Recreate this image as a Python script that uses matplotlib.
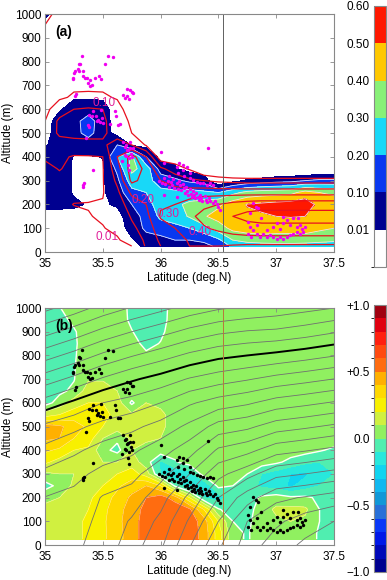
import numpy as np
import matplotlib
matplotlib.use("Agg")
import matplotlib.pyplot as plt
from matplotlib.colors import ListedColormap, BoundaryNorm
from matplotlib.cm import ScalarMappable

plt.rcParams['font.family'] = ['Liberation Sans', 'DejaVu Sans']

# grid for the gridded fields (rows = altitude from top to bottom)
lat = [35.0, 35.125, 35.25, 35.375, 35.5, 35.625, 35.75, 35.875, 36.0, 36.125, 36.25,
       36.375, 36.5, 36.625, 36.75, 36.875, 37.0, 37.125, 37.25, 37.375, 37.5]
alt = [1000, 950, 900, 850, 800, 750, 700, 650, 600, 550, 500, 450, 400, 350, 300,
       250, 200, 150, 100, 50, 25]

Z0 = [0] * 21

# (a) shaded field
conc_a = [
    [0.015] + [0] * 20,
    Z0, Z0, Z0, Z0, Z0, Z0, Z0,
    [-0.01, 0.0, 0.05, 0.06, 0.04, -0.03] + [0] * 15,
    [-0.03, 0.05, 0.07, 0.14, 0.05, -0.03] + [0] * 15,
    [-0.02, 0.05, 0.07, 0.13, 0.05, -0.02] + [0] * 15,
    [0, 0.05, 0.05, 0.05, 0.04, 0.1, 0.0, -0.02] + [0] * 13,
    [0.05, 0.05, 0.005, 0.005, 0.012, 0.2, 0.32, 0.1, -0.02] + [0] * 12,
    [0.05, 0.05, 0.0, -0.01, 0.0, 0.12, 0.33, 0.25, 0.06, 0.015, -0.02, -0.05, -0.1,
     -0.1, -0.1, -0.1, -0.1, -0.1, -0.1, -0.1, -0.1],
    [0.05, 0.05, 0.0, 0.0, 0.0, 0.08, 0.25, 0.24, 0.15, 0.12, 0.08, 0.06, -0.1, -0.02,
     0.02, 0.04, 0.06, 0.07, 0.1, 0.12, 0.12],
    [0.05, 0.05, 0.0, 0.0, 0.0, 0.05, 0.17, 0.2, 0.23, 0.22, 0.24, 0.22, 0.2, 0.27,
     0.33, 0.35, 0.36, 0.37, 0.44, 0.4, 0.38],
    [0.05, 0.05, 0.03, 0.0, 0.0, 0.02, 0.1, 0.15, 0.26, 0.28, 0.32, 0.35, 0.38, 0.46,
     0.505, 0.52, 0.535, 0.545, 0.555, 0.47, 0.46],
    [-0.05, -0.05, -0.03, 0, 0, -0.02, 0.06, 0.13, 0.22, 0.25, 0.31, 0.39, 0.44, 0.47,
     0.48, 0.49, 0.5, 0.505, 0.5, 0.47, 0.45],
    [0, 0, 0, 0, 0, -0.03, 0.04, 0.12, 0.15, 0.17, 0.2, 0.26, 0.35, 0.43, 0.45, 0.46,
     0.45, 0.45, 0.45, 0.42, 0.4],
    [0, 0, 0, 0, 0, 0, 0.0, 0.06, 0.07, 0.1, 0.1, 0.12, 0.18, 0.3, 0.33, 0.34, 0.34,
     0.34, 0.34, 0.33, 0.32],
    [0, 0, 0, 0, 0, 0, -0.02, 0.03, 0.04, 0.06, 0.07, 0.07, 0.12, 0.22, 0.25, 0.26,
     0.27, 0.27, 0.26, 0.25, 0.24],
]

# (a) red contour field
conc_red = [
    [0.02] + [0] * 20,
    [0.009] + [0] * 20,
    Z0, Z0, Z0, Z0, Z0,
    [0, 0, 0.018, 0.02, 0.018, 0.005] + [0] * 15,
    [-0.01, 0.05, 0.1, 0.11, 0.1, 0.03, -0.02] + [0] * 14,
    [0.01, 0.12, 0.14, 0.15, 0.12, 0.04, 0.0] + [0] * 14,
    [0.02, 0.12, 0.14, 0.14, 0.12, 0.05, 0.01] + [0] * 14,
    [0.02, 0.05, 0.05, 0.06, 0.08, 0.15, 0.1, 0.0] + [0] * 13,
    [0.015, 0.02, 0.005, 0.005, 0.01, 0.2, 0.34, 0.2, -0.05, -0.05, -0.1, -0.1, -0.1,
     -0.2, -0.2, -0.2, -0.2, -0.2, -0.2, -0.2, -0.2],
    [0.0, 0.012, 0.0, 0.0, 0.005, 0.16, 0.35, 0.28, 0.12, 0.05, 0.0, -0.1, -0.15,
     -0.2, -0.2, -0.2, -0.2, -0.2, -0.2, -0.2, -0.2],
    [0, 0, 0, 0, 0.005, 0.12, 0.32, 0.27, 0.2, 0.16, 0.12, 0.1, 0.08, 0.07, 0.06,
     0.06, 0.06, 0.06, 0.06, 0.06, 0.06],
    [0, 0, 0, 0, 0.005, 0.08, 0.22, 0.24, 0.26, 0.24, 0.25, 0.26, 0.26, 0.26, 0.26,
     0.26, 0.26, 0.26, 0.26, 0.26, 0.26],
    [0, 0, 0.011, 0.012, 0.015, 0.05, 0.15, 0.2, 0.29, 0.3, 0.34, 0.38, 0.4, 0.43,
     0.45, 0.46, 0.46, 0.46, 0.46, 0.46, 0.46],
    [0, 0, 0, 0.008, 0.015, 0.03, 0.11, 0.17, 0.31, 0.33, 0.38, 0.43, 0.46, 0.5, 0.53,
     0.54, 0.54, 0.54, 0.54, 0.54, 0.54],
    [0, 0, 0, 0, 0.008, 0.02, 0.08, 0.14, 0.26, 0.3, 0.36, 0.39, 0.42, 0.45, 0.46,
     0.47, 0.47, 0.47, 0.47, 0.47, 0.47],
    [0, 0, 0, 0, 0, 0.005, 0.03, 0.12, 0.22, 0.26, 0.31, 0.33, 0.34, 0.35, 0.36, 0.36,
     0.36, 0.36, 0.36, 0.36, 0.36],
    [0, 0, 0, 0, 0, 0, 0.01, 0.11, 0.2, 0.24, 0.3, 0.3, 0.3, 0.29, 0.28, 0.28, 0.28,
     0.28, 0.28, 0.28, 0.28],
]
red_labels = ['0.10', '0.01', '0.20', '0.30', '0.40']

# (b) shaded anomaly field
anom_b = [
    [-0.05, -0.005, 0.05, 0.05, 0.05, 0.05, -0.025, -0.06, -0.046] + [0.05] * 12,
    [-0.06, -0.03, 0.02, 0.05, 0.05, 0.05, -0.02, -0.06, -0.04] + [0.05] * 12,
    [-0.07, -0.05, -0.01, 0.05, 0.05, 0.05, 0.005, -0.05, -0.02] + [0.05] * 12,
    [-0.07, -0.05, -0.015, 0.05, 0.05, 0.05, 0.04, -0.03, 0.005] + [0.05] * 12,
    [-0.07, -0.05, -0.01, 0.05, 0.05, 0.05, 0.05, 0.02, 0.05] + [0.05] * 12,
    [-0.07, -0.05, -0.005, 0.05, 0.05, 0.05, 0.05, 0.05, 0.05] + [0.05] * 12,
    [-0.06, -0.04, -0.005, 0.09, 0.09, 0.07, 0.06, 0.06, 0.05] + [0.05] * 12,
    [-0.04, -0.02, 0.02, 0.15, 0.15, 0.1, 0.08, 0.08, 0.06] + [0.05] * 12,
    [-0.04, 0.04, 0.15, 0.2, 0.2, 0.15, -0.02, 0.1, 0.08] + [0.05] * 12,
    [0.15, 0.2, 0.25, 0.25, 0.22, 0.18, 0.12, 0.12, 0.12, 0.06] + [0.05] * 11,
    [0.45, 0.42, 0.35, 0.28, 0.2, 0.15, 0.14, 0.13, 0.12, 0.06] + [0.05] * 11,
    [0.42, 0.4, 0.3, 0.25, 0.1, 0.02, 0.12, 0.12, 0.1, 0.05] + [0.05] * 11,
    [0.32, 0.28, 0.2, 0.18, 0.03, -0.03, 0.1, 0.06, 0.06, 0.04, 0.04, 0.05, 0.05,
     0.05, 0.05, 0.05, 0.05, 0.05, 0.04, 0.01, -0.02],
    [0.22, 0.16, 0.14, 0.12, 0.1, 0.1, 0.15, 0.05, -0.12, -0.01, 0.05, 0.05, 0.05,
     0.05, 0.05, 0.05, 0.02, -0.03, -0.08, -0.1, -0.08],
    [0.08, 0.1, 0.1, 0.12, 0.15, 0.2, 0.25, 0.15, -0.1, -0.2, -0.15, 0.05, 0.05, 0.05,
     0.0, -0.1, -0.15, -0.2, -0.22, -0.15, -0.1],
    [-0.04, 0.03, 0.12, 0.15, 0.2, 0.28, 0.35, 0.4, 0.3, -0.02, -0.18, -0.2, 0.03,
     0.0, -0.06, -0.12, -0.15, -0.22, -0.15, -0.1, -0.08],
    [0.08, 0.1, 0.13, 0.18, 0.25, 0.33, 0.42, 0.5, 0.55, 0.45, 0.2, -0.1, -0.15,
     -0.05, -0.06, 0.02, 0.05, 0.02, 0.02, -0.02, -0.05],
    [0.12, 0.13, 0.15, 0.2, 0.27, 0.36, 0.45, 0.53, 0.58, 0.58, 0.52, 0.3, 0.01,
     -0.05, -0.04, 0.05, 0.12, 0.13, 0.12, 0.0, -0.04],
    [0.13, 0.14, 0.17, 0.22, 0.28, 0.37, 0.46, 0.54, 0.58, 0.59, 0.56, 0.45, 0.2,
     0.0, -0.02, 0.05, 0.08, 0.1, 0.08, 0.0, -0.03],
    [0.13, 0.14, 0.17, 0.22, 0.28, 0.36, 0.46, 0.54, 0.58, 0.59, 0.57, 0.46, 0.25,
     0.03, -0.01, 0.05, 0.05, 0.05, 0.04, -0.01, -0.03],
    [0.13, 0.14, 0.17, 0.22, 0.28, 0.36, 0.46, 0.54, 0.58, 0.59, 0.57, 0.46, 0.25,
     0.03, -0.01, 0.05, 0.05, 0.05, 0.04, -0.01, -0.03],
]

# (b) potential temperature (rows = altitude from 0 to 1000 m)
theta_lat = [35.0, 35.25, 35.5, 35.75, 36.0, 36.25, 36.5, 36.75, 37.0, 37.25, 37.5]
theta_alt = [0, 100, 200, 300, 400, 500, 600, 700, 800, 900, 1000]
theta = [
    [295.5, 295.2, 294.6, 293.5, 292.2, 290.1, 288.2, 286.5, 285.5, 284.8, 284.3],
    [295.6, 295.4, 294.75, 293.88, 292.73, 290.85, 289.0, 287.0, 286.2, 285.5, 285.0],
    [295.97, 295.7, 294.93, 294.54, 293.42, 291.73, 290.0, 288.46, 287.23, 286.92, 286.56],
    [296.77, 296.33, 295.67, 295.33, 294.33, 293.0, 291.29, 290.38, 289.31, 289.0, 288.65],
    [297.72, 297.2, 296.6, 296.2, 295.44, 294.43, 292.83, 292.31, 291.4, 291.08, 290.73],
    [298.78, 298.26, 297.67, 297.25, 296.63, 295.75, 294.6, 294.23, 293.48, 293.17, 292.81],
    [300.58, 299.8, 299.0, 298.57, 298.0, 297.14, 296.54, 296.15, 295.56, 295.25, 294.9],
    [302.5, 301.73, 300.87, 300.15, 299.58, 298.91, 298.45, 298.08, 297.65, 297.33, 296.98],
    [304.42, 303.65, 302.79, 302.08, 301.44, 300.77, 300.27, 300.0, 299.73, 299.42, 299.06],
    [306.35, 305.58, 304.71, 304.0, 303.37, 302.69, 302.19, 301.92, 301.8, 301.5, 301.1],
    [308.27, 307.5, 306.63, 305.92, 305.29, 304.62, 304.12, 303.85, 303.6, 303.3, 303.0],
]
theta_bold = 300

# observation points
dot_lat = [35.548, 35.585, 35.519, 35.317, 35.303, 35.283, 35.260, 35.246, 35.251, 35.298,
           35.332, 35.361, 35.389, 35.375, 35.404, 35.433, 35.470, 35.482, 35.389, 35.346,
           35.326, 35.291, 35.239, 35.260, 35.268,
           35.735, 35.750, 35.712, 35.692, 35.730, 35.706, 35.677, 35.758,
           35.418, 35.404, 35.441, 35.461, 35.490, 35.476, 35.447, 35.504, 35.562, 35.614,
           35.634, 35.383, 35.383, 35.606, 35.649, 35.482, 35.375,
           35.355, 35.418, 35.340, 35.326, 35.331,
           35.678, 35.735, 35.692, 35.721, 35.741, 35.701, 35.663, 35.721, 35.701, 35.713,
           35.736, 35.692, 35.750, 35.730, 35.764, 35.730,
           36.0, 36.41, 36.03, 36.162, 36.191, 36.226, 36.197, 36.254, 36.139, 36.283,
           36.312, 36.341, 36.370, 36.398, 36.427, 36.456,
           35.99, 36.01, 36.03, 36.04, 36.06, 36.07, 36.09, 36.10, 36.11, 36.12,
           36.14, 36.15, 36.16, 36.17, 36.18, 36.19, 36.20, 36.21, 36.22, 36.23,
           36.24, 36.25, 36.26, 36.27, 36.28, 36.29, 36.30, 36.31, 36.32, 36.33,
           36.34, 36.35, 36.36, 36.38, 36.39, 36.40, 36.42, 36.43, 36.45, 36.47,
           36.49, 36.50, 36.51, 36.03, 36.14, 36.07, 36.15, 36.20, 36.25,
           36.802, 36.825, 36.773, 36.843, 36.872, 36.757, 36.773, 36.802, 36.83, 36.859,
           36.757, 36.786, 36.888, 36.917, 36.945, 36.974, 37.003, 37.032, 37.061, 37.090,
           37.118, 37.147, 37.176, 37.205, 37.234, 36.974, 37.003, 37.032, 37.061, 37.090,
           37.118, 37.147, 37.176, 37.205, 37.220, 37.249, 37.19, 37.061, 36.83, 36.917]
dot_alt = [825, 818, 788, 823, 788, 767, 760, 731, 753, 760,
           760, 731, 724, 710, 703, 731, 741, 727, 699, 732,
           739, 792, 727, 654, 665,
           682, 671, 657, 647, 643, 687, 659, 670,
           591, 570, 570, 556, 563, 545, 549, 542, 539, 570,
           535, 575, 524, 592, 538, 596, 534,
           478, 345, 288, 274, 281,
           464, 464, 443, 429, 412, 403, 384, 366, 449, 428,
           435, 407, 400, 393, 435, 344,
           422, 439, 373, 373, 366, 359, 345, 331, 358, 302,
           295, 292, 288, 281, 288, 281,
           300, 290, 310, 285, 300, 275, 295, 280, 305, 270,
           290, 265, 300, 280, 260, 285, 270, 250, 275, 255,
           240, 265, 245, 230, 255, 238, 225, 248, 232, 220,
           240, 228, 215, 235, 220, 210, 228, 215, 205, 215,
           200, 190, 176, 240, 232, 320, 330, 320, 310,
           204, 190, 162, 183, 141, 127, 105, 91, 77, 63,
           77, 63, 77, 63, 70, 63, 56, 63, 56, 63,
           70, 77, 84, 77, 84, 105, 120, 98, 120, 133,
           112, 141, 105, 112, 98, 105, 141, 148, 112, 91]

section_lat = 36.54

levels_a = [0.01, 0.1, 0.2, 0.3, 0.4, 0.5, 0.6]
colors_a = ['#ffffff', '#000090', '#0838f0', '#18d8f8', '#88f078', '#ffc800', '#ff1800']
red_levels = [0.01, 0.1, 0.2, 0.3, 0.4, 0.5]

levels_b = np.linspace(-1, 1, 21)
colors_b = ['#000090', '#0008b8', '#0018e8', '#0838f8', '#2870d8', '#1098d8', '#10b8f0',
            '#10d4f0', '#28e8dc', '#50eeb0', '#90f060', '#d0f040', '#f8f000', '#ffd800',
            '#ffb000', '#ff6c10', '#ff4a10', '#ff2010', '#e00010', '#a00010']

fig = plt.figure(figsize=(3.87, 5.8), dpi=100)
ax_a = fig.add_axes([0.1163, 0.5655, 0.7468, 0.4103])
ax_b = fig.add_axes([0.1163, 0.0603, 0.7468, 0.4086])
cax_a = fig.add_axes([0.9664, 0.5397, 0.031, 0.45])
cax_b = fig.add_axes([0.9664, 0.0138, 0.031, 0.4603])

LAT, ALT = np.meshgrid(lat, alt)
TLAT, TALT = np.meshgrid(theta_lat, theta_alt)

# panel (a)
ax_a.contourf(LAT, ALT, np.array(conc_a), levels=levels_a, colors=colors_a[1:])
ax_a.contour(LAT, ALT, np.array(conc_a), levels=levels_a[1:-1], colors='#e8e8f4',
             linewidths=0.6)
ax_a.contour(LAT, ALT, np.array(conc_red), levels=red_levels, colors='#e8101e',
             linewidths=0.9)
label_pos = [(35.51, 625), (35.535, 63), (35.85, 218), (36.06, 158), (36.345, 84)]
for (x, y), txt in zip(label_pos, red_labels):
    ax_a.text(x, y, txt, color='#e0209a', fontsize=8.5, ha='center', va='center',
              zorder=6)
ax_a.scatter(dot_lat, dot_alt, s=6, color='#f000f0', linewidths=0, zorder=5)
ax_a.axvline(section_lat, color='#606060', lw=0.7)
ax_a.text(0.035, 0.955, '(a)', transform=ax_a.transAxes, fontsize=10,
          fontweight='bold', va='top')

# panel (b)
ax_b.contourf(LAT, ALT, np.array(anom_b), levels=levels_b, colors=colors_b)
ax_b.contour(LAT, ALT, np.array(anom_b), levels=levels_b[11:], colors='white',
             linewidths=0.35, alpha=0.7)
ax_b.contour(LAT, ALT, np.array(anom_b), levels=[0.0], colors='white', linewidths=1.0)
gray_levels = [v for v in range(284, 309) if v != theta_bold]
ax_b.contour(TLAT, TALT, np.array(theta), levels=gray_levels, colors='#707070',
             linewidths=0.6)
ax_b.contour(TLAT, TALT, np.array(theta), levels=[theta_bold], colors='black',
             linewidths=1.4)
ax_b.scatter(dot_lat, dot_alt, s=6, color='black', linewidths=0, zorder=5)
ax_b.axvline(section_lat, color='#b8783c', lw=0.7)
ax_b.text(0.035, 0.955, '(b)', transform=ax_b.transAxes, fontsize=10,
          fontweight='bold', va='top')

for ax in (ax_a, ax_b):
    ax.set_xlim(35, 37.5)
    ax.set_ylim(0, 1000)
    ax.set_xticks([35, 35.5, 36, 36.5, 37, 37.5])
    ax.set_xticklabels(['35', '35.5', '36', '36.5', '37', '37.5'])
    ax.set_yticks(range(0, 1001, 100))
    ax.tick_params(direction='in', length=3, width=0.6, color='#888888', top=True,
                   right=True, labelsize=8.5)
    ax.tick_params(axis='x', pad=4)
    ax.tick_params(axis='y', pad=2.5)
    for s in ax.spines.values():
        s.set_color('#888888')
        s.set_linewidth(0.8)
    ax.set_xlabel('Latitude (deg.N)', fontsize=8.5, labelpad=2)
    ax.set_ylabel('Altitude (m)', fontsize=8.5, labelpad=1)

# colorbars
bnd_a = [0.0] + levels_a
cb_a = fig.colorbar(ScalarMappable(BoundaryNorm(bnd_a, 7), ListedColormap(colors_a)),
                    cax=cax_a, boundaries=bnd_a, spacing='uniform')
cb_a.set_ticks(levels_a)
cb_a.set_ticklabels(['0.01', '0.10', '0.20', '0.30', '0.40', '0.50', '0.60'])

cb_b = fig.colorbar(ScalarMappable(BoundaryNorm(levels_b, 20), ListedColormap(colors_b)),
                    cax=cax_b, boundaries=levels_b)
cb_b.set_ticks([-1, -0.5, 0, 0.5, 1])
cb_b.set_ticklabels(['\u22121.0', '\u22120.5', '0.0', '+0.5', '+1.0'])

for cb in (cb_a, cb_b):
    cb.ax.yaxis.set_ticks_position('left')
    cb.ax.yaxis.set_label_position('left')
    cb.ax.tick_params(length=0, labelsize=8.5, pad=3)
    cb.outline.set_edgecolor('#888888')
    cb.outline.set_linewidth(0.8)

fig.savefig('out.png', dpi=100)
